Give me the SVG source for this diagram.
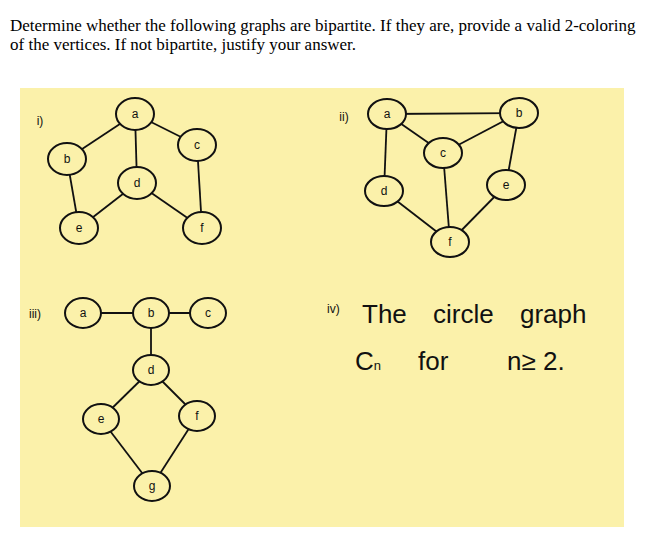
<svg xmlns="http://www.w3.org/2000/svg" width="661" height="541" viewBox="0 0 661 541">
<style>
.n ellipse{fill:#fbf1aa;stroke:#111;stroke-width:2}
.n text,.lb{font-family:"Liberation Sans",sans-serif;font-size:12px;fill:#111;text-anchor:middle}
.e line{stroke:#111;stroke-width:1.8}
.hd{font-family:"Liberation Serif",serif;font-size:17px;fill:#000}
.hw{font-family:"Liberation Sans",sans-serif;font-size:26px;fill:#111}
</style>
<rect width="661" height="541" fill="#fff"/>
<text class="hd" x="10" y="31">Determine whether the following graphs are bipartite. If they are, provide a valid 2-coloring</text>
<text class="hd" x="10" y="50">of the vertices. If not bipartite, justify your answer.</text>
<rect x="20" y="88" width="604" height="439" fill="#fbf1aa"/>
<text class="lb" x="40" y="125" font-size="18">i)</text>
<text class="lb" x="344" y="121" font-size="16">ii)</text>
<text class="lb" x="35" y="318" font-size="12">iii)</text>
<g class="e">
<line x1="135" y1="114" x2="67" y2="159"/><line x1="135" y1="114" x2="197" y2="145"/><line x1="135" y1="114" x2="137" y2="183"/>
<line x1="67" y1="159" x2="79" y2="228"/><line x1="137" y1="183" x2="79" y2="228"/><line x1="137" y1="183" x2="202" y2="228"/><line x1="197" y1="145" x2="202" y2="228"/>
<line x1="387" y1="114" x2="519" y2="113"/><line x1="387" y1="114" x2="443" y2="153"/><line x1="387" y1="114" x2="384" y2="191"/>
<line x1="519" y1="113" x2="443" y2="153"/><line x1="519" y1="113" x2="506" y2="185"/><line x1="443" y1="153" x2="450" y2="242"/>
<line x1="384" y1="191" x2="450" y2="242"/><line x1="506" y1="185" x2="450" y2="242"/>
<line x1="83" y1="313" x2="208" y2="313"/><line x1="151" y1="313" x2="151" y2="370"/><line x1="151" y1="370" x2="101" y2="419"/><line x1="151" y1="370" x2="197" y2="416"/><line x1="101" y1="419" x2="152" y2="486"/><line x1="197" y1="416" x2="152" y2="486"/>
</g>
<g id="i-a" class="n"><ellipse cx="135" cy="114" rx="19" ry="16"/><text x="135" y="118">a</text></g>
<g id="i-b" class="n"><ellipse cx="67" cy="159" rx="19" ry="16"/><text x="67" y="163">b</text></g>
<g id="i-c" class="n"><ellipse cx="197" cy="145" rx="19" ry="16"/><text x="197" y="149">c</text></g>
<g id="i-d" class="n"><ellipse cx="137" cy="183" rx="19" ry="16"/><text x="137" y="187">d</text></g>
<g id="i-e" class="n"><ellipse cx="79" cy="228" rx="19" ry="16"/><text x="79" y="232">e</text></g>
<g id="i-f" class="n"><ellipse cx="202" cy="228" rx="19" ry="16"/><text x="202" y="232">f</text></g>
<g id="ii-a" class="n"><ellipse cx="387" cy="114" rx="19" ry="15"/><text x="387" y="118">a</text></g>
<g id="ii-b" class="n"><ellipse cx="519" cy="113" rx="19" ry="15"/><text x="519" y="117">b</text></g>
<g id="ii-c" class="n"><ellipse cx="443" cy="153" rx="19" ry="15"/><text x="443" y="157">c</text></g>
<g id="ii-d" class="n"><ellipse cx="384" cy="191" rx="19" ry="15"/><text x="384" y="195">d</text></g>
<g id="ii-e" class="n"><ellipse cx="506" cy="185" rx="19" ry="15"/><text x="506" y="189">e</text></g>
<g id="ii-f" class="n"><ellipse cx="450" cy="242" rx="19" ry="15"/><text x="450" y="246">f</text></g>
<g id="iii-a" class="n"><ellipse cx="83" cy="313" rx="18" ry="15"/><text x="83" y="317" font-size="11">a</text></g>
<g id="iii-b" class="n"><ellipse cx="151" cy="313" rx="18" ry="15"/><text x="151" y="317" font-size="11">b</text></g>
<g id="iii-c" class="n"><ellipse cx="208" cy="313" rx="18" ry="15"/><text x="208" y="317" font-size="11">c</text></g>
<g id="iii-d" class="n"><ellipse cx="151" cy="370" rx="18" ry="15"/><text x="151" y="374" font-size="11">d</text></g>
<g id="iii-e" class="n"><ellipse cx="101" cy="419" rx="18" ry="15"/><text x="101" y="423" font-size="11">e</text></g>
<g id="iii-f" class="n"><ellipse cx="197" cy="416" rx="18" ry="15"/><text x="197" y="420" font-size="11">f</text></g>
<g id="iii-g" class="n"><ellipse cx="152" cy="486" rx="18" ry="15"/><text x="152" y="490" font-size="11">g</text></g>
<g class="hw">
<text x="327" y="313" font-size="12">iv)</text>
<text x="362" y="323">The</text>
<text x="433" y="323">circle</text>
<text x="520" y="323">graph</text>
<text x="355" y="370">C<tspan font-size="13">n</tspan></text>
<text x="418" y="370">for</text>
<text x="507" y="370">n≥ 2.</text>
</g>
</svg>
